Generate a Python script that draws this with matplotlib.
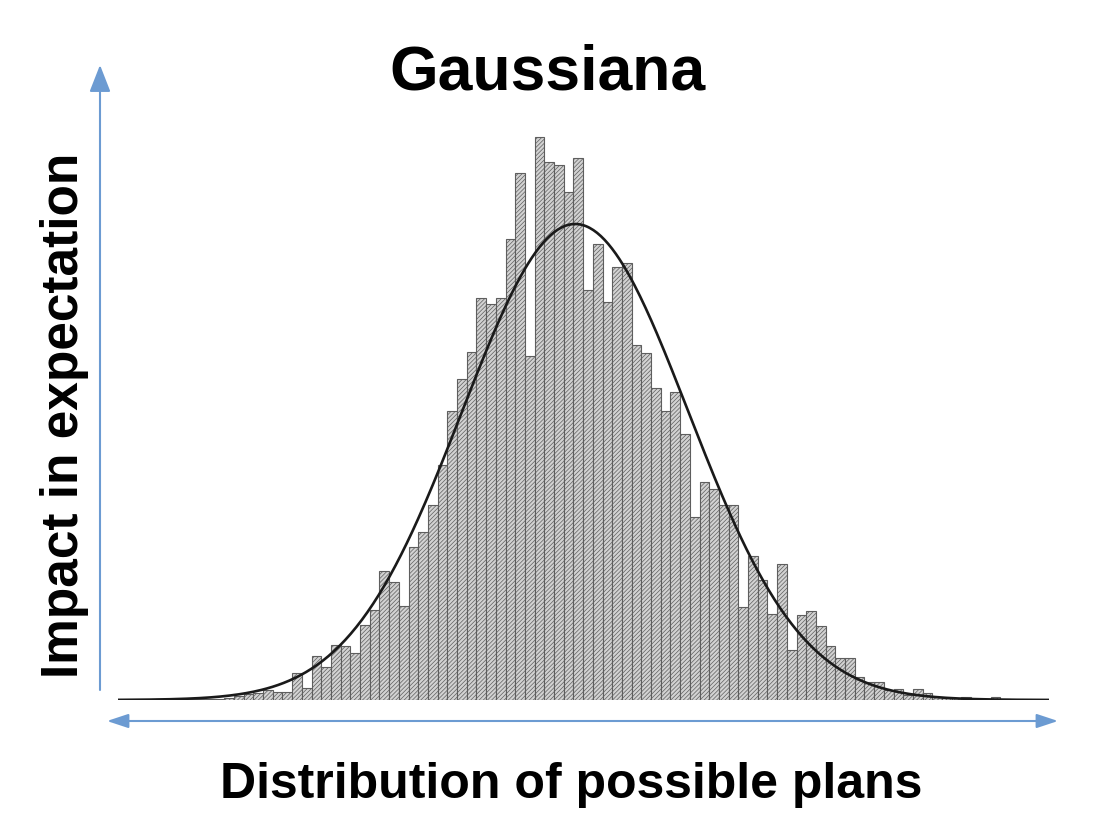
import numpy as np
import matplotlib
matplotlib.use("Agg")
import matplotlib.pyplot as plt

# histogram of plan outcomes (96 bins), heights
bin_lo = -4.05
bin_hi = 4.19
counts = [
    0.5, 0.5, 0.5, 0.5, 1, 1, 1, 1,
    1.5, 1.5, 1.5, 2, 4, 6, 7, 10, 8, 8,
    27, 12, 44, 33, 55, 54, 47, 75, 90, 129, 118, 94, 153, 168, 195, 235,
    289, 321, 348, 402, 396, 402, 461, 527, 344, 563, 538, 535, 508, 542,
    410, 456, 398, 433, 437, 355, 347, 312, 289, 308, 266, 183, 218, 211,
    195, 195, 93, 144, 120, 86, 136, 50, 85, 89, 74, 54, 42, 42, 23, 18,
    18, 10, 11, 5, 11, 7, 3, 2, 2, 3, 1, 1, 3, 1, 0.5, 0.5, 0.5, 0.5,
]

# fitted normal curve
fit_mean = 0.0
fit_std = 1.0
fit_peak = 476

title = "Gaussiana"
xlabel = "Distribution of possible plans"
ylabel = "Impact in expectation"

plt.rcParams['font.family'] = ['Liberation Sans', 'DejaVu Sans']
plt.rcParams['hatch.linewidth'] = 0.5

fig = plt.figure(figsize=(11, 8.27), dpi=100)
ax = fig.add_axes([117.5 / 1100, 127 / 827, 931.2 / 1100, 600 / 827])

edges = np.linspace(bin_lo, bin_hi, len(counts) + 1)
width = edges[1] - edges[0]
ax.bar(edges[:-1], counts, width=width, align='edge',
       facecolor='#d2d2d2', edgecolor='#5e5e5e', linewidth=0.8, hatch='////////')

xs = np.linspace(bin_lo, bin_hi, 500)
ys = fit_peak * np.exp(-(xs - fit_mean) ** 2 / (2 * fit_std ** 2))
ax.plot(xs, ys, color='#1a1a1a', linewidth=1.9)

ax.set_xlim(bin_lo, bin_hi)
ax.set_ylim(0, 600)
ax.axis('off')

# blue axis arrows
blue = '#6c9bd2'
ax.annotate('', xy=(100, 762), xytext=(100, 137),
            xycoords='figure pixels', textcoords='figure pixels',
            arrowprops=dict(arrowstyle='-|>,head_length=1.66,head_width=0.65',
                            color=blue, lw=1.5, shrinkA=0, shrinkB=0))
ax.annotate('', xy=(1058, 106), xytext=(107, 106),
            xycoords='figure pixels', textcoords='figure pixels',
            arrowprops=dict(arrowstyle='<|-|>,head_length=1.3,head_width=0.43',
                            color=blue, lw=1.5, shrinkA=0, shrinkB=0))

fig.text(547 / 1100, 1 - 90 / 827, title, ha='center', va='baseline',
         fontsize=45, fontweight='bold')
fig.text(571 / 1100, 1 - 798 / 827, xlabel, ha='center', va='baseline',
         fontsize=36, fontweight='bold')
fig.text(78 / 1100, 1 - 415 / 827, ylabel, ha='center', va='baseline',
         rotation=90, rotation_mode='anchor', fontsize=37, fontweight='bold')

fig.savefig("out.png", dpi=100)
